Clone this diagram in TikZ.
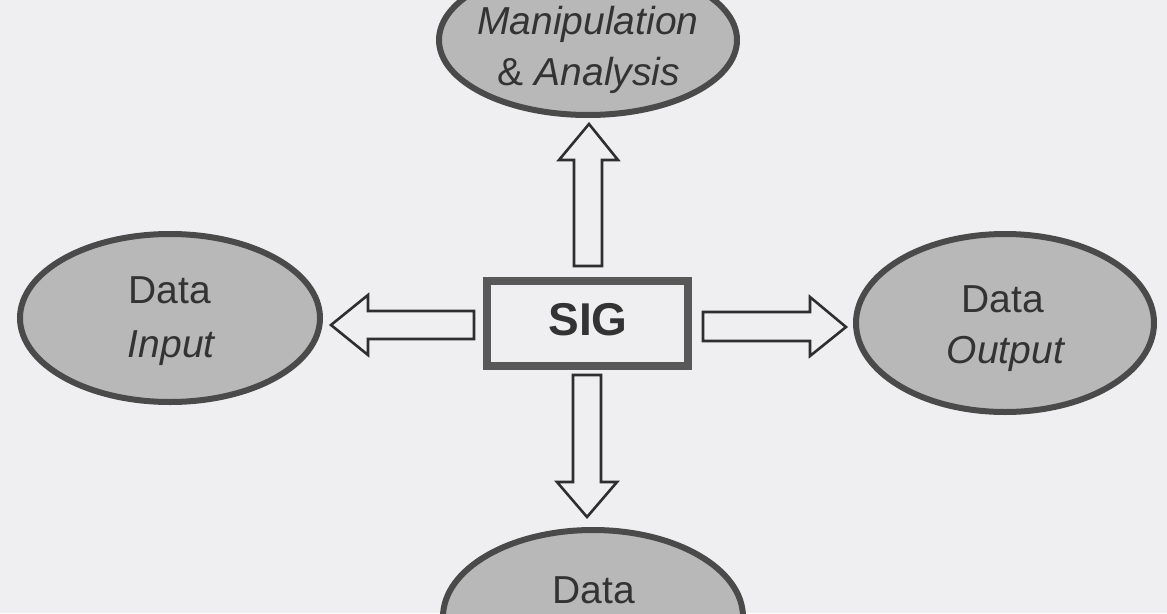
\documentclass[tikz,border=0pt]{standalone}
\usepackage{fontspec}
\setmainfont{Liberation Sans}
\usetikzlibrary{shapes.geometric}
\definecolor{paper}{HTML}{EFEFF1}
\definecolor{ellfill}{HTML}{B8B8B8}
\definecolor{ellline}{HTML}{4A4A4A}
\definecolor{ink}{HTML}{333333}
\definecolor{boxline}{HTML}{585858}
\definecolor{arrowline}{HTML}{2E2E2E}
\tikzset{
  oval/.style={ellipse, draw=ellline, fill=ellfill, line width=6pt, inner sep=0pt},
  lbl/.style={anchor=base, text=ink, inner sep=0pt, font=\fontsize{39}{44}\selectfont},
  sigbox/.style={draw=boxline, line width=8.5pt, fill=paper, inner sep=0pt},
  blockarrow/.style={draw=arrowline, line width=2.6pt, fill=paper, line join=miter}
}
\begin{document}
\begin{tikzpicture}[x=1pt,y=-1pt]
\fill[paper] (0,0) rectangle (1167,613);
\useasboundingbox (0,0) rectangle (1167,613);

% ellipses
\node[oval, minimum width=298pt, minimum height=150pt] (manip) at (588,40) {};
\node[oval, minimum width=300pt, minimum height=168pt] (input) at (170,318) {};
\node[oval, minimum width=298pt, minimum height=178pt] (output) at (1005,323) {};
\node[oval, minimum width=300pt, minimum height=174pt] (store) at (593,617) {};

% central box
\node[sigbox, minimum width=201pt, minimum height=85pt] (sig) at (587.5,323.5) {};
\node[lbl, font=\fontsize{46}{50}\selectfont\bfseries] (sigt) at (588,335) {SIG};

% labels
\node[lbl] (m1) at (588,34) {\textit{Manipulation}};
\node[lbl] (m2) at (589,85) {\&~\textit{Analysis}};
\node[lbl] (i1) at (170,303) {Data};
\node[lbl] (i2) at (172,357) {\textit{Input}};
\node[lbl] (o1) at (1003,312) {Data};
\node[lbl] (o2) at (1006,363) {\textit{Output}};
\node[lbl] (s1) at (594,603) {Data};

% block arrows
\draw[blockarrow] (574,266) -- (574,160) -- (559,160) -- (589,124) -- (618,160) -- (602,160) -- (602,266) -- cycle;
\draw[blockarrow] (474,311) -- (368,311) -- (368,295) -- (331,325) -- (368,355) -- (368,339) -- (474,339) -- cycle;
\draw[blockarrow] (703,312) -- (810,312) -- (810,297) -- (846,327) -- (810,356) -- (810,341) -- (703,341) -- cycle;
\draw[blockarrow] (573,375) -- (601,375) -- (601,482) -- (617,482) -- (587,517) -- (557,482) -- (573,482) -- cycle;
\end{tikzpicture}
\end{document}
